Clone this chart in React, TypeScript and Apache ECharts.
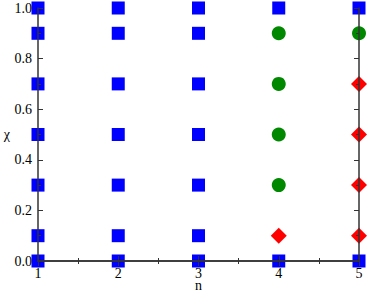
import React, { useEffect, useRef } from "react";
import * as echarts from "echarts";

const nTicks = [1, 2, 3, 4, 5];
const chiTicks = [0, 0.2, 0.4, 0.6, 0.8, 1.0];

const blueSquares: [number, number][] = [
  [1, 0], [1, 0.1], [1, 0.3], [1, 0.5], [1, 0.7], [1, 0.9], [1, 1.0],
  [2, 0], [2, 0.1], [2, 0.3], [2, 0.5], [2, 0.7], [2, 0.9], [2, 1.0],
  [3, 0], [3, 0.1], [3, 0.3], [3, 0.5], [3, 0.7], [3, 0.9], [3, 1.0],
  [4, 0], [4, 1.0],
  [5, 0], [5, 1.0],
];
const greenCircles: [number, number][] = [
  [4, 0.3], [4, 0.5], [4, 0.7], [4, 0.9],
  [5, 0.9],
];
const redDiamonds: [number, number][] = [
  [4, 0.1],
  [5, 0.1], [5, 0.3], [5, 0.5], [5, 0.7],
];

const font = "Liberation Serif, serif";
const axisColor = "#333333";

export default function App() {
  const ref = useRef<HTMLDivElement>(null);
  useEffect(() => {
    if (!ref.current) return;
    const chart = echarts.init(ref.current, undefined, { renderer: "svg" });
    const common = {
      type: "value" as const,
      zlevel: 1,
      z: 10,
      axisLine: { show: true, lineStyle: { color: axisColor, width: 1.5 } },
      axisTick: { show: true, inside: true, length: 5, lineStyle: { color: axisColor, width: 1 } },
      minorTick: { show: true, splitNumber: 2, length: 3, lineStyle: { color: axisColor, width: 1 } },
      splitLine: { show: false },
    };
    chart.setOption({
      animation: false,
      backgroundColor: "#ffffff",
      textStyle: { fontFamily: font },
      grid: { left: 38, right: 10, top: 8, bottom: 29, containLabel: false, outerBoundsMode: "none" },
      xAxis: [
        {
          ...common,
          position: "bottom",
          min: nTicks[0],
          max: nTicks[nTicks.length - 1],
          interval: 1,
          name: "n",
          nameLocation: "middle",
          nameGap: 17,
          nameMoveOverlap: false,
          nameTextStyle: { fontFamily: font, fontSize: 14, color: "#000" },
          axisLabel: { fontFamily: font, fontSize: 14, color: "#000", margin: 5 },
        },
        {
          ...common,
          position: "top",
          min: nTicks[0],
          max: nTicks[nTicks.length - 1],
          interval: 1,
          axisLabel: { show: false },
        },
      ],
      yAxis: [
        {
          ...common,
          position: "left",
          min: chiTicks[0],
          max: chiTicks[chiTicks.length - 1],
          interval: 0.2,
          name: "χ",
          nameLocation: "middle",
          nameRotate: 0,
          nameGap: 28,
          nameMoveOverlap: false,
          nameTextStyle: { fontFamily: font, fontSize: 14, color: "#000" },
          axisLabel: {
            fontFamily: font,
            fontSize: 14,
            color: "#000",
            margin: 6,
            formatter: (v: number) => v.toFixed(1),
          },
        },
        {
          ...common,
          position: "right",
          min: chiTicks[0],
          max: chiTicks[chiTicks.length - 1],
          interval: 0.2,
          axisLabel: { show: false },
        },
      ],
      series: [
        {
          type: "scatter",
          data: blueSquares,
          symbol: "rect",
          symbolSize: 13,
          itemStyle: { color: "#0000ff", opacity: 1 },
          clip: false,
          z: 2,
        },
        {
          type: "scatter",
          data: greenCircles,
          symbol: "circle",
          symbolSize: 14,
          itemStyle: { color: "#008800", opacity: 1 },
          clip: false,
          z: 2,
        },
        {
          type: "scatter",
          data: redDiamonds,
          symbol: "diamond",
          symbolSize: 16,
          itemStyle: { color: "#ff0000", opacity: 1 },
          clip: false,
          z: 2,
        },
      ],
    });
    return () => chart.dispose();
  }, []);
  return <div ref={ref} style={{ width: 369, height: 290, position: "fixed", left: 0, top: 0 }} />;
}
